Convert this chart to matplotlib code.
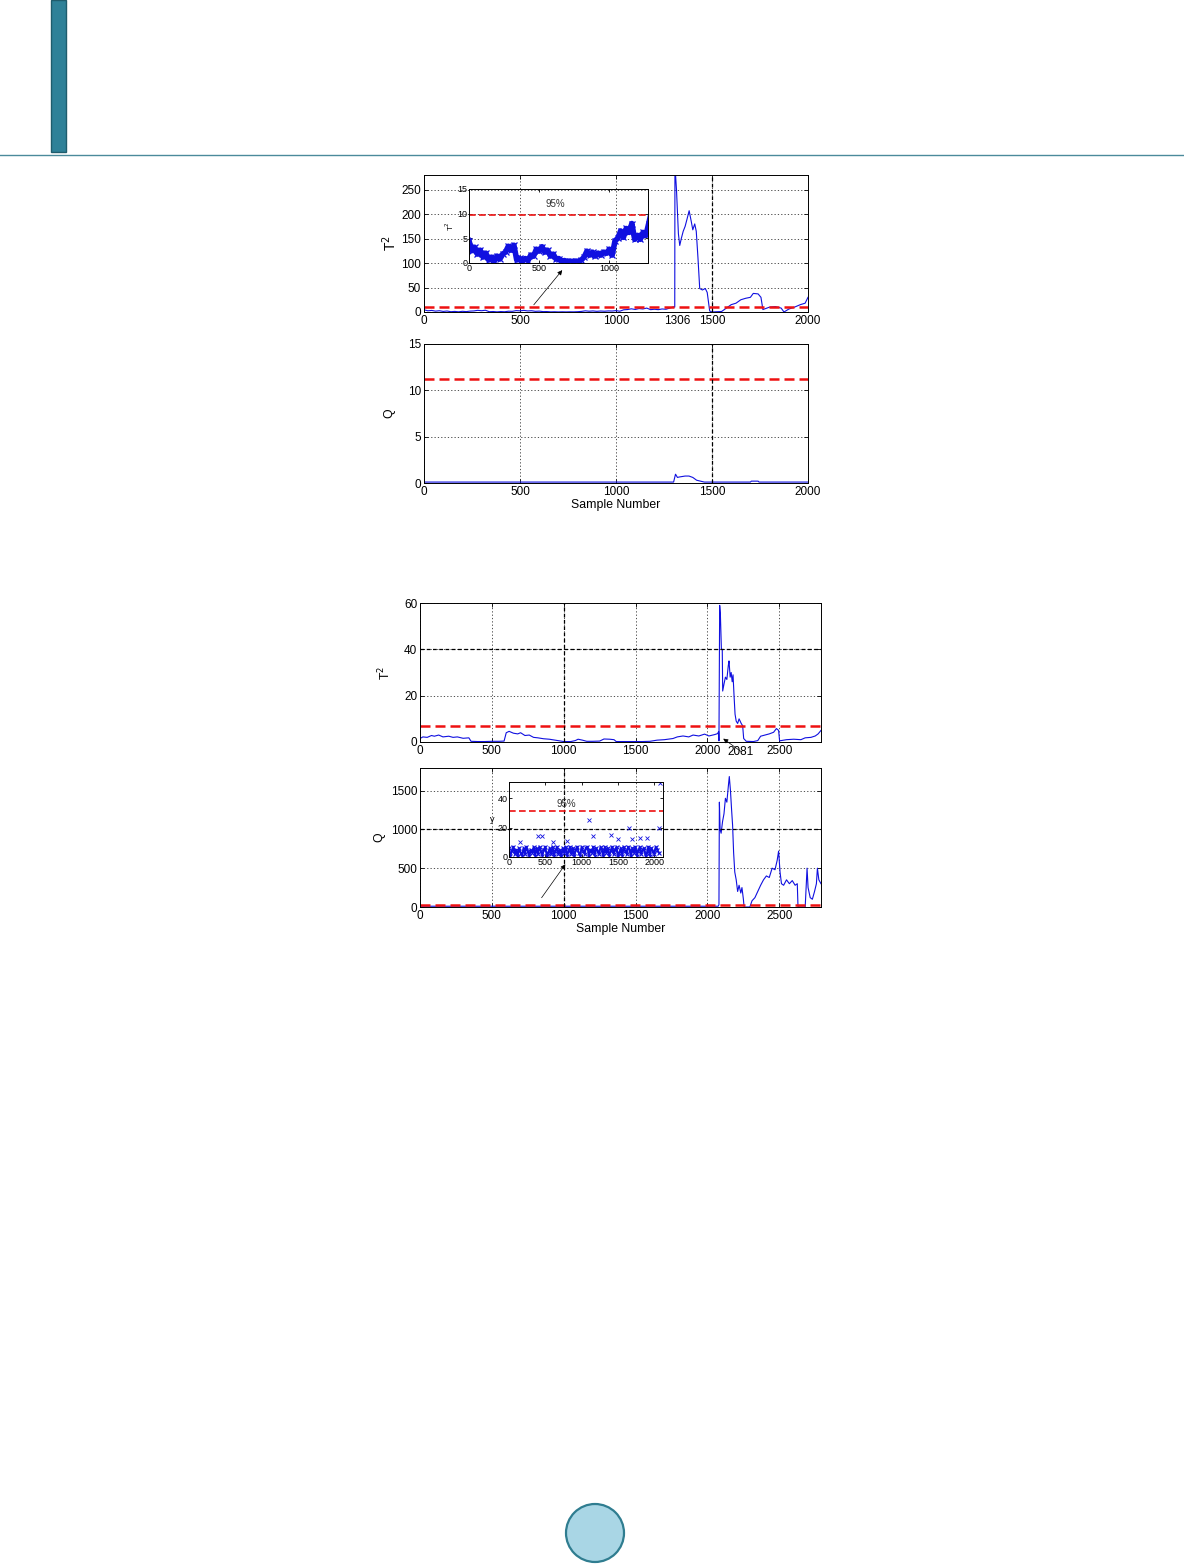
import numpy as np
import matplotlib
matplotlib.use("Agg")
import matplotlib.pyplot as plt
from matplotlib.patches import Rectangle, Ellipse, FancyArrowPatch
from matplotlib.lines import Line2D

plt.rcParams['font.family'] = ['Liberation Sans', 'DejaVu Sans']

W, H = 1184, 1564

# ---------------- data: case 1 ----------------
# pre-fault T2 (samples 0..1300, step 20) - also shown in the inset
pre1_t2 = [4.5, 2.5, 3.2, 1.8, 2.6, 1.2, 2.0, 0.6, 1.2, 0.4,
           1.4, 0.8, 1.8, 2.2, 3.4, 2.6, 3.6, 0.6, 1.0, 0.3,
           0.9, 0.5, 1.6, 1.4, 2.8, 2.4, 3.3, 2.2, 2.6, 1.4,
           1.8, 0.8, 0.9, 0.3, 0.5, 0.2, 0.4, 0.2, 0.4, 0.3,
           0.6, 1.2, 2.4, 1.6, 2.2, 1.4, 2.0, 1.6, 2.2, 2.0,
           2.8, 1.6, 4.5, 5.0, 6.5, 5.2, 7.0, 6.2, 8.0, 4.8,
           5.6, 4.8, 6.2, 5.6, 8.0, 10.5]
pre1_x = np.arange(0, 20 * len(pre1_t2), 20)

post1_x = [1306, 1307, 1315, 1325, 1332, 1340, 1350, 1360, 1370, 1381,
           1392, 1400, 1410, 1418, 1427, 1436, 1450, 1465, 1475, 1488,
           1500, 1520, 1550, 1575, 1600, 1625, 1650, 1675, 1700, 1715,
           1740, 1755, 1765, 1800, 1830, 1860, 1875, 1900, 1930, 1960,
           1985, 2000]
post1_t2 = [10, 300, 250, 160, 136, 150, 165, 175, 190, 207,
            185, 168, 180, 165, 110, 48, 45, 48, 40, 2,
            0, 0.5, 1, 8, 15, 18, 25, 28, 30, 38,
            37, 30, 5, 10, 11, 8, 0, 6, 10, 15,
            18, 30]
t2_limit1 = 10.0
ins_limit1 = 9.75
fault1 = 1306

q1_x = [0, 1300, 1310, 1320, 1330, 1360, 1380, 1400, 1420, 1440, 1460,
        1700, 1705, 1740, 1745, 2000]
q1_y = [0.1, 0.1, 0.95, 0.6, 0.65, 0.75, 0.75, 0.6, 0.3, 0.2, 0.1,
        0.1, 0.2, 0.2, 0.1, 0.1]
q_limit1 = 11.2

# ---------------- data: case 2 ----------------
t2_2_x = [0, 20, 50, 80, 100, 130, 160, 200, 230, 260, 300, 340, 355, 400,
          450, 500, 550, 585, 600, 620, 650, 680, 700, 730, 760, 790, 820,
          860, 900, 940, 970, 1000, 1050, 1080, 1100, 1130, 1160, 1200, 1250,
          1280, 1320, 1350, 1365, 1450, 1550, 1600, 1650, 1700, 1760, 1790,
          1830, 1870, 1900, 1940, 1980, 2010, 2050, 2070, 2078, 2080, 2085,
          2090, 2097, 2103, 2106, 2115, 2125, 2135, 2145, 2150, 2158, 2165,
          2172, 2178, 2185, 2192, 2200, 2210, 2220, 2235, 2245, 2252, 2270,
          2320, 2350, 2370, 2400, 2430, 2460, 2480, 2495, 2502, 2550, 2600,
          2650, 2680, 2720, 2750, 2770, 2790]
t2_2_y = [1.5, 2.2, 2.0, 2.8, 2.5, 3.0, 2.2, 2.5, 2.0, 2.2, 1.6, 1.8, 0.3, 0.2,
          0.2, 0.3, 0.3, 0.4, 4.0, 4.6, 3.8, 3.5, 4.0, 2.8, 3.0, 2.0, 1.8,
          1.4, 1.2, 0.8, 0.5, 0.2, 0.2, 0.6, 1.2, 0.8, 0.3, 0.3, 0.4,
          1.3, 1.2, 1.0, 0.2, 0.2, 0.2, 0.3, 0.8, 1.0, 1.5, 2.2,
          2.6, 2.2, 3.0, 2.6, 3.4, 2.6, 3.2, 3.6, 4.5, 0.5, 59,
          55, 40, 40, 22, 25, 28, 27, 33, 35, 28, 30,
          26, 29, 20, 12, 9, 8, 10, 8, 7, 1.5, 0.3,
          0.2, 0.6, 2.5, 3.0, 3.5, 4.2, 5.8, 5.0, 0.5, 1.0, 1.2,
          1.0, 1.8, 2.0, 2.6, 3.5, 5.0]
t2_limit2 = 7.0
fault2 = 2081

q2_x = [0, 2075, 2080, 2083, 2088, 2095, 2105, 2115, 2125, 2135, 2145, 2152,
        2160, 2168, 2175, 2182, 2190, 2200, 2210, 2220, 2232, 2240, 2250,
        2255, 2295, 2310, 2330, 2350, 2370, 2390, 2410, 2430, 2450, 2470,
        2485, 2495, 2505, 2515, 2530, 2550, 2570, 2590, 2610, 2625, 2630,
        2680, 2693, 2700, 2715, 2730, 2745, 2758, 2765, 2775, 2790]
q2_y = [10, 10, 30, 1350, 1000, 950, 1100, 1200, 1400, 1350, 1550, 1680,
        1500, 1250, 1050, 700, 450, 350, 200, 280, 180, 250, 100,
        0, 0, 80, 120, 200, 280, 350, 400, 380, 500, 480,
        600, 720, 450, 300, 280, 350, 300, 340, 280, 300, 0,
        0, 500, 250, 120, 100, 200, 300, 500, 350, 300]
q_limit2 = 30.0

# inset of case 2: Q statistic of training data (step 20) and a few outliers
ins2_q = [6, 1, 4, 7, 2, 5, 0.5, 6, 3, 1, 6, 2, 7, 4, 0.5, 5, 3, 7, 1, 6,
          2, 7, 4, 1, 5, 7, 0.5, 3, 6, 2, 7, 1, 4, 7, 2, 5, 0.5, 6, 3, 7,
          1, 4, 7, 2, 6, 0.5, 5, 7, 3, 1, 7, 4, 2, 6, 7, 0.5, 5, 3, 7, 1,
          6, 4, 2, 7, 5, 0.5, 7, 3, 6, 1, 4, 7, 2, 5, 7, 0.5, 3, 6, 1, 7,
          4, 2, 7, 5, 0.5, 6, 3, 7, 1, 4, 7, 2, 5, 6, 0.5, 3, 7, 1, 6, 4,
          2, 7, 5, 3]
ins2_x = np.arange(0, 20 * len(ins2_q), 20)
out2_x = [150, 400, 450, 600, 800, 1100, 1150, 1400, 1500, 1650, 1700, 1800, 1900, 2060, 2075]
out2_y = [10, 14, 14, 10, 11, 25, 14, 15, 12, 20, 12, 13, 13, 20, 50]
ins_limit2 = 31.0

BLUE = '#1010e0'
RED = '#ee1111'
TICK_FS = 8.5
INS_FS = 6.5


def frac(left, top, right, bottom):
    return [left / W, 1 - bottom / H, (right - left) / W, (bottom - top) / H]


def style(ax, fs=TICK_FS):
    ax.tick_params(direction='in', length=3, width=0.6, labelsize=fs,
                   top=True, right=True, pad=2)
    for s in ax.spines.values():
        s.set_linewidth(0.7)


def grid(ax):
    ax.grid(True, color='#333333', linestyle=(0, (1.5, 2.5)), linewidth=0.6)


def fig_arrow(x0, y0, x1, y1):
    fig.add_artist(FancyArrowPatch((x0 / W, 1 - y0 / H), (x1 / W, 1 - y1 / H),
                                   transform=fig.transFigure, arrowstyle='-|>',
                                   mutation_scale=7, color='k', lw=0.5))


fig = plt.figure(figsize=(W / 100, H / 100), dpi=100)

# page decorations
fig.add_artist(Rectangle((51 / W, 1 - 152 / H), 15 / W, 152 / H,
                         facecolor='#2f8198', edgecolor='#1f5c6c', lw=1.0,
                         transform=fig.transFigure))
fig.add_artist(Line2D([0, 1], [1 - 155 / H, 1 - 155 / H], color='#4b8a9b',
                      lw=1.0, transform=fig.transFigure))
fig.add_artist(Ellipse((595 / W, 1 - 1533 / H), 58 / W, 58 / H,
                       facecolor='#a9d6e5', edgecolor='#2f7d90', lw=1.6,
                       transform=fig.transFigure))

# ---- panel 1: T2 case 1 ----
ax1 = fig.add_axes(frac(424, 175, 808, 312))
style(ax1)
grid(ax1)
ax1.plot(np.concatenate([pre1_x, post1_x]), np.concatenate([pre1_t2, post1_t2]),
         color=BLUE, lw=0.8)
ax1.axhline(t2_limit1, color=RED, ls=(0, (4, 2)), lw=1.8)
ax1.axvline(1500, color='k', ls=(0, (3, 2)), lw=0.9)
ax1.set_xlim(0, 2000)
ax1.set_ylim(0, 280)
ax1.set_xticks([0, 500, 1000, 1500, 2000])
ax1.set_yticks([0, 50, 100, 150, 200, 250])
ax1.set_ylabel('T$^2$', fontsize=10, labelpad=2)
ax1.annotate(str(fault1), xy=(1318, 0), xycoords=('data', 'axes fraction'),
             xytext=(0, -2), textcoords='offset points', ha='center', va='top',
             fontsize=TICK_FS)

ins1 = fig.add_axes(frac(469, 189, 648, 263))
ins1.set_facecolor('none')
style(ins1, fs=INS_FS)
ins1.tick_params(length=2, pad=1)
ins1.plot(pre1_x, pre1_t2, color=BLUE, lw=4.0, marker='x', ms=4, mew=0.9)
ins1.axhline(ins_limit1, color=RED, ls=(0, (4, 2)), lw=1.2)
ins1.text(612, 11.9, '95%', fontsize=7, ha='center', va='center', color='#333333')
ins1.set_xlim(0, 1275)
ins1.set_ylim(0, 15)
ins1.set_xticks([0, 500, 1000])
ins1.set_yticks([0, 5, 10, 15])
ins1.set_ylabel('T$^2$', fontsize=5.5, labelpad=1)

fig_arrow(532, 307, 564, 268)

# ---- panel 2: Q case 1 ----
ax2 = fig.add_axes(frac(424, 344, 808, 483))
style(ax2)
grid(ax2)
ax2.plot(q1_x, q1_y, color=BLUE, lw=0.8)
ax2.axhline(q_limit1, color=RED, ls=(0, (4, 2)), lw=1.8)
ax2.axvline(1500, color='k', ls=(0, (3, 2)), lw=0.9)
ax2.set_xlim(0, 2000)
ax2.set_ylim(0, 15)
ax2.set_xticks([0, 500, 1000, 1500, 2000])
ax2.set_yticks([0, 5, 10, 15])
ax2.set_ylabel('Q', fontsize=8.8, labelpad=9)
ax2.set_xlabel('Sample Number', fontsize=8.8, labelpad=1)

# ---- panel 3: T2 case 2 ----
ax3 = fig.add_axes(frac(420, 603, 821, 742))
style(ax3)
grid(ax3)
ax3.plot(t2_2_x, t2_2_y, color=BLUE, lw=0.8)
ax3.axhline(t2_limit2, color=RED, ls=(0, (4, 2)), lw=1.8)
ax3.axvline(1000, color='k', ls=(0, (3, 2)), lw=0.9)
ax3.axhline(40, color='k', ls=(0, (3, 2)), lw=0.9)
ax3.set_xlim(0, 2790)
ax3.set_ylim(0, 60)
ax3.set_xticks([0, 500, 1000, 1500, 2000, 2500])
ax3.set_yticks([0, 20, 40, 60])
ax3.set_ylabel('T$^2$', fontsize=8.8, labelpad=8)
ax3.annotate(str(fault2), xy=(2230, 0), xycoords=('data', 'axes fraction'),
             xytext=(0, -3), textcoords='offset points', ha='center', va='top',
             fontsize=TICK_FS)
fig_arrow(743, 753, 721, 737)

# ---- panel 4: Q case 2 ----
ax4 = fig.add_axes(frac(420, 768, 821, 907))
style(ax4)
grid(ax4)
ax4.plot(q2_x, q2_y, color=BLUE, lw=0.8)
ax4.axhline(q_limit2, color=RED, ls=(0, (4, 2)), lw=1.8)
ax4.axvline(1000, color='k', ls=(0, (3, 2)), lw=0.9)
ax4.axhline(1000, color='k', ls=(0, (3, 2)), lw=0.9)
ax4.set_xlim(0, 2790)
ax4.set_ylim(0, 1790)
ax4.set_xticks([0, 500, 1000, 1500, 2000, 2500])
ax4.set_yticks([0, 500, 1000, 1500])
ax4.set_ylabel('Q', fontsize=8.8, labelpad=4)
ax4.set_xlabel('Sample Number', fontsize=8.8, labelpad=1)

ins2 = fig.add_axes(frac(509, 782, 663, 857))
ins2.set_facecolor('none')
style(ins2, fs=INS_FS)
ins2.tick_params(length=2, pad=1)
ins2.plot(ins2_x, ins2_q, color=BLUE, lw=1.4, marker='x', ms=3.5, mew=0.8)
ins2.plot(out2_x, out2_y, ls='none', color=BLUE, marker='x', ms=3, mew=0.6)
ins2.axhline(ins_limit2, color=RED, ls=(0, (4, 2)), lw=1.2)
ins2.text(795, 36, '95%', fontsize=7, ha='center', va='center', color='#333333')
ins2.set_xlim(0, 2120)
ins2.set_ylim(0, 51)
ins2.set_xticks([0, 500, 1000, 1500, 2000])
ins2.set_yticks([0, 20, 40])
ins2.set_ylabel('y', fontsize=6.5, rotation=0, labelpad=4, va='center')

fig_arrow(540, 900, 567, 862)

fig.savefig('out.png', dpi=100, facecolor='white')
